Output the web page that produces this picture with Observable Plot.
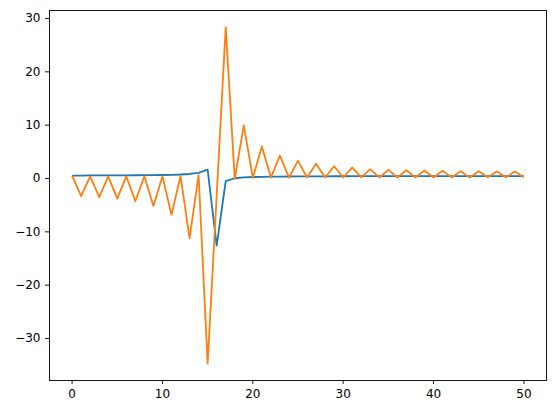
<!DOCTYPE html>
<html>
<head>
<meta charset="utf-8">
<script src="https://cdn.jsdelivr.net/npm/d3@7"></script>
<script src="https://cdn.jsdelivr.net/npm/@observablehq/plot@0.6"></script>
<style>
  html, body { margin: 0; padding: 0; background: #fff; }
</style>
</head>
<body>
<div id="chart"></div>
<script>
const xValues = d3.range(0, 51);
const blueValues = [
  0.56, 0.56, 0.57, 0.57, 0.58, 0.59, 0.60, 0.61, 0.62, 0.64,
  0.66, 0.70, 0.75, 0.85, 1.05, 1.65, -12.6, -0.5, 0.05, 0.20,
  0.28, 0.32, 0.35, 0.37, 0.38, 0.39, 0.40, 0.41, 0.41, 0.42,
  0.42, 0.43, 0.43, 0.43, 0.44, 0.44, 0.44, 0.44, 0.45, 0.45,
  0.45, 0.45, 0.45, 0.45, 0.46, 0.46, 0.46, 0.46, 0.46, 0.46,
  0.46
];
const orangeValues = [
  0.56, -3.32, 0.38, -3.5, 0.38, -3.76, 0.40, -4.26, 0.42, -5.14,
  0.44, -6.83, 0.50, -11.2, 0.63, -34.7, -3.2, 28.35, -0.05, 9.96,
  0.13, 6.01, 0.17, 4.32, 0.18, 3.32, 0.19, 2.78, 0.19, 2.30,
  0.20, 2.02, 0.20, 1.75, 0.20, 1.62, 0.20, 1.56, 0.20, 1.50,
  0.20, 1.44, 0.21, 1.38, 0.21, 1.36, 0.22, 1.31, 0.22, 1.30,
  0.25
];
const xTicks = [0, 10, 20, 30, 40, 50];
const yTicks = [-30, -20, -10, 0, 10, 20, 30];

const blueData = xValues.map((x, i) => ({x, y: blueValues[i]}));
const orangeData = xValues.map((x, i) => ({x, y: orangeValues[i]}));

const chart = Plot.plot({
  width: 555,
  height: 413,
  marginLeft: 49,
  marginRight: 9,
  marginTop: 10,
  marginBottom: 33,
  style: {fontFamily: "DejaVu Sans", fontSize: "12px", color: "#000", background: "#fff"},
  x: {domain: [-2.5, 52.5], label: null},
  y: {domain: [-37.87, 31.5], label: null},
  marks: [
    Plot.line(blueData, {x: "x", y: "y", stroke: "#1f77b4", strokeWidth: 1.8, strokeLinejoin: "round", strokeLinecap: "butt"}),
    Plot.line(orangeData, {x: "x", y: "y", stroke: "#ff7f0e", strokeWidth: 1.8, strokeLinejoin: "round", strokeLinecap: "butt"}),
    Plot.frame({stroke: "#000", strokeWidth: 0.9}),
    Plot.axisX({ticks: xTicks, tickSize: 4, tickPadding: 5, label: null, strokeWidth: 0.9, fontSize: 12}),
    Plot.axisY({ticks: yTicks, tickSize: 4, tickPadding: 5, label: null, strokeWidth: 0.9, fontSize: 12})
  ]
});
document.getElementById("chart").appendChild(chart);
</script>
</body>
</html>
